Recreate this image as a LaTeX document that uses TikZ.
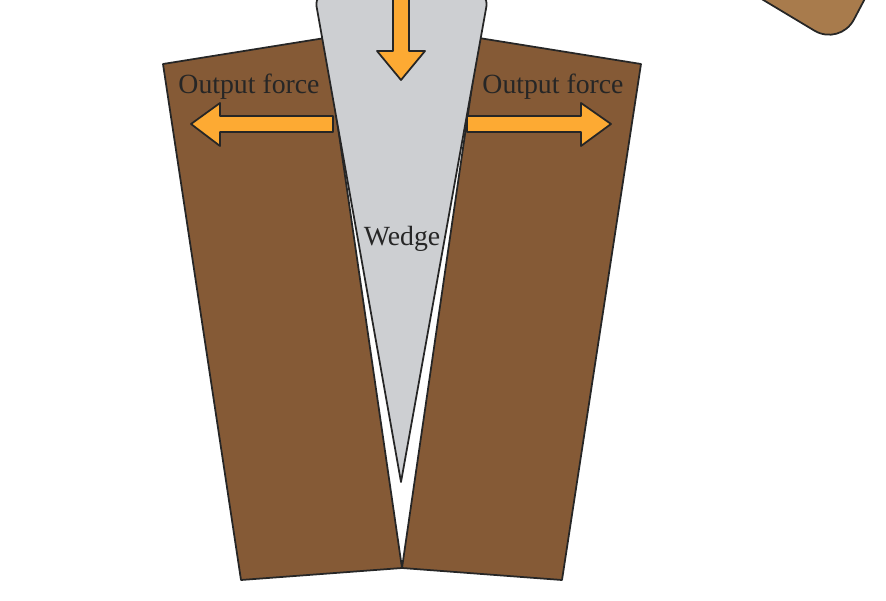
\documentclass[tikz,border=0pt]{standalone}
\usepackage{fontspec}
\setmainfont{Liberation Serif}
\usepackage{tikz}
\usetikzlibrary{positioning}
\definecolor{woodbrown}{HTML}{855A36}
\definecolor{handlebrown}{HTML}{A87B4C}
\definecolor{wedgegray}{HTML}{CDCFD2}
\definecolor{forceorange}{HTML}{FDAA33}
\tikzset{
	outline/.style={draw=black!85,line width=.5pt,line join=round},
	block/.style={outline,fill=woodbrown},
	forcearrow/.style={outline,fill=forceorange},
	caption/.style={inner sep=0pt,text=black!85,font=\fontsize{7.9}{9}\selectfont}
}
\begin{document}
\begin{tikzpicture}
\useasboundingbox (0,0) rectangle (8.86,6);
\clip (0,0) rectangle (8.86,6);
% handle of the hammer, cut by the top edge
\draw[outline,fill=handlebrown,rounded corners=3mm] (7.0,6.38) -- (8.4,5.54) -- (8.8,6.3);
% the two halves of the split block
\foreach \n/\p/\q/\r in{
	left/1.63/3.25/2.41,
	right/6.41/4.79/5.62
}
{
	\draw[block] (\p,5.36) -- (\q,5.62) -- (4.02,0.32) -- (\r,0.2) -- cycle;
}
% force arrows
\foreach \n/\x/\h/\t in{
	1/3.33/2.2/1.91,
	2/4.67/5.81/6.11
}
{
	\draw[forcearrow] (\x,4.84) -- (\h,4.84) -- (\h,4.97) -- (\t,4.76) -- (\h,4.54) -- (\h,4.68) -- (\x,4.68) -- cycle;
}
% wedge
\coordinate (tip) at (4.01,1.18);
\coordinate (topleft) at (3.14,6.08);
\coordinate (topright) at (4.89,6.08);
\draw[outline,fill=wedgegray] (tip) [rounded corners=1.5mm] -- (topleft) -- (topright) [sharp corners] -- cycle;
\draw[forcearrow] (3.93,6.2) -- (3.93,5.49) -- (3.77,5.49) -- (4.01,5.2) -- (4.25,5.49) -- (4.09,5.49) -- (4.09,6.2) -- cycle;
% labels
\node[caption] (outputleft) at (2.49,5.13) {Output force};
\node[caption] (outputright) at (5.53,5.13) {Output force};
\node[caption] (wedgelabel) at (4.02,3.61) {Wedge};
\end{tikzpicture}
\end{document}
